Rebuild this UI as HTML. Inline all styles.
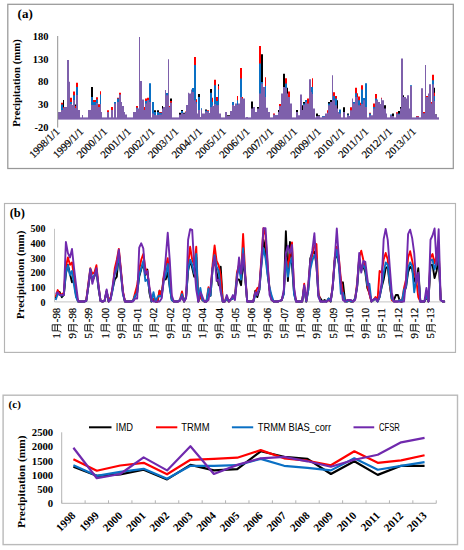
<!DOCTYPE html>
<html><head><meta charset="utf-8"><style>
html,body{margin:0;padding:0;background:#fff;width:464px;height:550px;overflow:hidden}
svg{display:block}
</style></head><body>
<svg width="464" height="550" viewBox="0 0 464 550">
<rect width="464" height="550" fill="#fff"/>
<rect x="7.8" y="4.3" width="445.5" height="164.2" fill="none" stroke="#989898" stroke-width="1.25"/>
<text x="17.6" y="17.8" font-family='"Liberation Serif", serif' font-size="13" font-weight="bold" text-anchor="start" fill="#000">(a)</text>
<text x="20.3" y="83" font-family='"Liberation Serif", serif' font-size="10.8" font-weight="bold" text-anchor="middle" fill="#000" transform="rotate(-90 20.3 83)">Precipitation (mm)</text>
<text x="48.6" y="39.8" font-family='"Liberation Serif", serif' font-size="10.5" font-weight="bold" text-anchor="end" fill="#000">180</text>
<text x="48.6" y="62.6" font-family='"Liberation Serif", serif' font-size="10.5" font-weight="bold" text-anchor="end" fill="#000">130</text>
<text x="48.6" y="85.4" font-family='"Liberation Serif", serif' font-size="10.5" font-weight="bold" text-anchor="end" fill="#000">80</text>
<text x="48.6" y="108.2" font-family='"Liberation Serif", serif' font-size="10.5" font-weight="bold" text-anchor="end" fill="#000">30</text>
<text x="48.6" y="131" font-family='"Liberation Serif", serif' font-size="10.5" font-weight="bold" text-anchor="end" fill="#000">-20</text>
<path d="M58 119V116H61V119ZM63 119V99.9H64V119ZM75 119V104.4H76V119ZM91 119V86.9H93V119ZM98 119V104.4H100V119ZM133 119V112H136V119ZM154 119V110.3H156V119ZM157 119V110.3H159V119ZM162 119V106H163V119ZM170 119V98.6H172V119ZM179 119V112.8H181V119ZM181 119V110H183V119ZM183 119V112.8H185V119ZM196 119V99.4H197V119ZM198 119V94H200V119ZM205 119V109.4H207V119ZM210 119V88.9H212V119ZM218 119V84.3H219V119ZM227 119V115.3H230V119ZM230 119V112H232V119ZM251 119V101.6H253V119ZM257 119V107H259V119ZM261 119V54.2H263V119ZM266 119V108.6H268V119ZM278 119V110H279V119ZM283 119V73.8H285V119ZM287 119V87.7H288V119ZM296 119V110H298V119ZM302 119V105.3H303V119ZM303 119V101.9H305V119ZM313 119V110.3H315V119ZM316 119V113.6H318V119ZM318 119V115.3H320V119ZM328 119V101.9H330V119ZM330 119V99.9H332V119ZM337 119V100.2H338V119ZM343 119V107.3H345V119ZM347 119V113.6H349V119ZM384 119V105.3H386V119ZM392 119V113.6H394V119ZM398 119V111.1H400V119ZM400 119V106.9H401V119ZM403 119V95.2H404V119ZM434 119V87.7H435V119ZM435 119V114.4H437V119Z" fill="#000000"/>
<path d="M58 119V116H61V119ZM61 119V102.7H63V119ZM63 119V107H64V119ZM70 119V97.7H72V119ZM73 119V91.5H75V119ZM75 119V106H76V119ZM76 119V82.8H78V119ZM93 119V99.9H96V119ZM96 119V97.2H98V119ZM98 119V104.4H100V119ZM100 119V91.2H101V119ZM107 119V110.3H109V119ZM111 119V107H113V119ZM117 119V97.7H119V119ZM119 119V92.7H121V119ZM122 119V106H124V119ZM136 119V106H138V119ZM144 119V107H145V119ZM145 119V98.6H147V119ZM147 119V97.7H149V119ZM159 119V112H162V119ZM169 119V106H170V119ZM170 119V101H172V119ZM185 119V111.6H186V119ZM194 119V57.1H196V119ZM196 119V99.4H197V119ZM207 119V110.3H209V119ZM212 119V97.7H213V119ZM214 119V79.8H216V119ZM216 119V96.9H218V119ZM218 119V86H219V119ZM237 119V96H238V119ZM240 119V68.1H242V119ZM242 119V97H243V119ZM255 119V112H257V119ZM259 119V45.9H261V119ZM265 119V77.2H266V119ZM273 119V113.6H275V119ZM279 119V103.9H281V119ZM285 119V78.2H287V119ZM288 119V91.5H290V119ZM307 119V98.6H309V119ZM312 119V78.2H313V119ZM327 119V110.3H328V119ZM333 119V92.2H335V119ZM335 119V96H337V119ZM350 119V107.3H352V119ZM355 119V87.7H357V119ZM357 119V93.2H358V119ZM358 119V96.6H360V119ZM360 119V102.7H361V119ZM361 119V85.2H363V119ZM369 119V112.8H371V119ZM373 119V103.6H375V119ZM375 119V94H377V119ZM381 119V97.7H382V119ZM396 119V112.3H398V119ZM416 119V116H419V119ZM423 119V111.9H425V119ZM426 119V96H428V119ZM431 119V101.9H432V119ZM432 119V74.8H434V119ZM434 119V92.7H435V119Z" fill="#ff0000"/>
<path d="M58 119V116H61V119ZM61 119V104.5H63V119ZM63 119V108H64V119ZM70 119V101.9H72V119ZM72 119V105H73V119ZM73 119V95.2H75V119ZM76 119V86.9H78V119ZM91 119V96.9H93V119ZM93 119V101.9H96V119ZM96 119V99.4H98V119ZM100 119V94.4H101V119ZM114 119V102H116V119ZM117 119V98.6H119V119ZM122 119V107.8H124V119ZM136 119V107.8H138V119ZM145 119V101H147V119ZM149 119V83.2H151V119ZM152 119V102H154V119ZM154 119V112H156V119ZM157 119V112H159V119ZM159 119V112.8H162V119ZM166 119V93H168V119ZM170 119V102.7H172V119ZM181 119V111.1H183V119ZM185 119V112.3H186V119ZM192 119V88H194V119ZM194 119V65.1H196V119ZM196 119V101.9H197V119ZM198 119V96.9H200V119ZM201 119V108.3H202V119ZM205 119V110.6H207V119ZM207 119V111.1H209V119ZM210 119V92.7H212V119ZM212 119V101.9H213V119ZM214 119V85.2H216V119ZM216 119V101H218V119ZM218 119V89.4H219V119ZM232 119V101.9H234V119ZM237 119V100.2H238V119ZM238 119V107H240V119ZM240 119V78.5H242V119ZM255 119V112H257V119ZM259 119V63.4H261V119ZM261 119V82H263V119ZM265 119V86H266V119ZM275 119V115.3H278V119ZM279 119V106H281V119ZM285 119V83.5H287V119ZM303 119V103.6H305V119ZM305 119V99.9H307V119ZM311 119V86.9H312V119ZM312 119V86.9H313V119ZM322 119V116H325V119ZM328 119V103.6H330V119ZM333 119V96H335V119ZM335 119V98.6H337V119ZM339 119V109.4H341V119ZM347 119V114.4H349V119ZM353 119V101.9H355V119ZM355 119V93.2H357V119ZM357 119V96.9H358V119ZM358 119V100.2H360V119ZM360 119V105.3H361V119ZM361 119V89.4H363V119ZM363 119V98H365V119ZM365 119V83.2H367V119ZM369 119V113.6H371V119ZM373 119V106.9H375V119ZM375 119V98.6H377V119ZM390 119V114.4H392V119ZM398 119V113.6H400V119ZM410 119V85.2H412V119ZM423 119V113.6H425V119ZM432 119V80.2H434V119ZM434 119V96H435V119Z" fill="#0a70c4"/>
<path d="M58 119V112H61V119ZM61 119V110H63V119ZM63 119V108H64V119ZM64 119V107H67V119ZM67 119V60.1H69V119ZM69 119V81.8H70V119ZM70 119V104H72V119ZM72 119V105H73V119ZM73 119V100H75V119ZM75 119V108H76V119ZM76 119V95H78V119ZM78 119V110H80V119ZM82 119V115H83V119ZM88 119V110H91V119ZM91 119V105H93V119ZM93 119V105H96V119ZM96 119V103H98V119ZM98 119V107H100V119ZM100 119V104H101V119ZM101 119V112H102V119ZM107 119V112H109V119ZM111 119V110H113V119ZM114 119V103.6H116V119ZM117 119V102H119V119ZM119 119V94.4H121V119ZM121 119V102H122V119ZM122 119V106H124V119ZM124 119V112H125V119ZM125 119V114.4H127V119ZM133 119V112H136V119ZM136 119V108.6H138V119ZM138 119V108.6H139V119ZM139 119V37H140V119ZM140 119V81H142V119ZM142 119V99.4H144V119ZM144 119V110H145V119ZM145 119V103.6H147V119ZM147 119V100H149V119ZM149 119V102H151V119ZM152 119V113.6H154V119ZM154 119V115H156V119ZM156 119V115.3H157V119ZM157 119V115H159V119ZM159 119V114.4H162V119ZM162 119V108.6H163V119ZM163 119V107H165V119ZM165 119V89.9H166V119ZM166 119V95.2H168V119ZM168 119V59.3H169V119ZM169 119V107H170V119ZM170 119V103H172V119ZM179 119V114.4H181V119ZM181 119V113H183V119ZM183 119V113.6H185V119ZM185 119V112.5H186V119ZM186 119V105H188V119ZM188 119V92.7H189V119ZM189 119V93.5H191V119ZM191 119V89.4H192V119ZM192 119V91.9H194V119ZM194 119V100.2H196V119ZM196 119V103.6H197V119ZM197 119V113.6H198V119ZM198 119V110H200V119ZM200 119V117H201V119ZM201 119V109.4H202V119ZM202 119V113.6H205V119ZM205 119V111.4H207V119ZM207 119V111.4H209V119ZM209 119V113H210V119ZM210 119V107H212V119ZM212 119V105.3H213V119ZM213 119V106H214V119ZM214 119V104H216V119ZM216 119V105.3H218V119ZM218 119V105H219V119ZM219 119V113.6H221V119ZM225 119V112H227V119ZM227 119V116H230V119ZM230 119V111H232V119ZM232 119V105H234V119ZM234 119V106H235V119ZM235 119V103.6H237V119ZM237 119V105H238V119ZM238 119V103.6H240V119ZM240 119V97H242V119ZM242 119V98.6H243V119ZM243 119V98.6H245V119ZM246 119V117H248V119ZM251 119V108.6H253V119ZM253 119V107H255V119ZM255 119V112H257V119ZM257 119V108.6H259V119ZM259 119V93.5H261V119ZM261 119V83.5H263V119ZM263 119V86.9H265V119ZM265 119V97H266V119ZM266 119V107.8H268V119ZM268 119V112H270V119ZM273 119V114.4H275V119ZM275 119V115.3H278V119ZM278 119V112H279V119ZM279 119V106H281V119ZM281 119V93.5H283V119ZM283 119V86.9H285V119ZM285 119V87.7H287V119ZM287 119V93.5H288V119ZM288 119V97H290V119ZM290 119V103.6H292V119ZM296 119V112H298V119ZM298 119V115.3H300V119ZM300 119V94.4H302V119ZM302 119V110H303V119ZM303 119V105H305V119ZM305 119V101.9H307V119ZM307 119V103.6H309V119ZM309 119V79.3H311V119ZM311 119V92H312V119ZM312 119V94H313V119ZM313 119V108.6H315V119ZM316 119V116H318V119ZM318 119V116H320V119ZM322 119V116.6H325V119ZM325 119V113.6H327V119ZM327 119V112.8H328V119ZM328 119V105.3H330V119ZM330 119V102H332V119ZM332 119V75.2H333V119ZM333 119V100.2H335V119ZM335 119V105.3H337V119ZM337 119V108.6H338V119ZM338 119V112H339V119ZM339 119V113.6H341V119ZM343 119V112H345V119ZM347 119V115.3H349V119ZM349 119V116H350V119ZM350 119V110.3H352V119ZM352 119V98.6H353V119ZM353 119V103.6H355V119ZM355 119V96.9H357V119ZM357 119V96.9H358V119ZM358 119V105.3H360V119ZM360 119V106H361V119ZM361 119V104H363V119ZM363 119V100.2H365V119ZM365 119V107H367V119ZM369 119V115.3H371V119ZM371 119V115.3H373V119ZM373 119V108.6H375V119ZM375 119V100.2H377V119ZM377 119V99.4H378V119ZM378 119V101.9H380V119ZM380 119V104H381V119ZM381 119V98.6H382V119ZM382 119V100.2H384V119ZM384 119V108.6H386V119ZM386 119V113.6H387V119ZM390 119V115.3H392V119ZM392 119V116H394V119ZM396 119V113.6H398V119ZM398 119V114.4H400V119ZM400 119V108.6H401V119ZM401 119V58.4H403V119ZM403 119V96.9H404V119ZM404 119V96.9H406V119ZM406 119V98.6H407V119ZM407 119V95.2H409V119ZM409 119V108.6H410V119ZM410 119V86H412V119ZM416 119V116.6H419V119ZM421 119V88.2H423V119ZM423 119V113.6H425V119ZM425 119V65.1H426V119ZM426 119V96.9H428V119ZM428 119V93.5H429V119ZM429 119V84.3H431V119ZM431 119V103.6H432V119ZM432 119V84.3H434V119ZM434 119V101H435V119ZM435 119V114.4H437V119ZM437 119V117.8H439V119Z" fill="#7e60ab"/>
<rect x="58" y="117.4" width="381" height="2.2" fill="#7e60ab"/>
<line x1="57.7" y1="36" x2="57.7" y2="127.6" stroke="#868686" stroke-width="0.9"/>
<text x="60.2" y="132.2" font-family='"Liberation Serif", serif' font-size="10.6" font-weight="normal" text-anchor="end" fill="#000" transform="rotate(-45 60.2 132.2)" stroke="#000" stroke-width="0.22">1998/1/1</text>
<text x="83.95" y="132.2" font-family='"Liberation Serif", serif' font-size="10.6" font-weight="normal" text-anchor="end" fill="#000" transform="rotate(-45 83.95 132.2)" stroke="#000" stroke-width="0.22">1999/1/1</text>
<text x="107.7" y="132.2" font-family='"Liberation Serif", serif' font-size="10.6" font-weight="normal" text-anchor="end" fill="#000" transform="rotate(-45 107.7 132.2)" stroke="#000" stroke-width="0.22">2000/1/1</text>
<text x="131.45" y="132.2" font-family='"Liberation Serif", serif' font-size="10.6" font-weight="normal" text-anchor="end" fill="#000" transform="rotate(-45 131.45 132.2)" stroke="#000" stroke-width="0.22">2001/1/1</text>
<text x="155.2" y="132.2" font-family='"Liberation Serif", serif' font-size="10.6" font-weight="normal" text-anchor="end" fill="#000" transform="rotate(-45 155.2 132.2)" stroke="#000" stroke-width="0.22">2002/1/1</text>
<text x="178.95" y="132.2" font-family='"Liberation Serif", serif' font-size="10.6" font-weight="normal" text-anchor="end" fill="#000" transform="rotate(-45 178.95 132.2)" stroke="#000" stroke-width="0.22">2003/1/1</text>
<text x="202.7" y="132.2" font-family='"Liberation Serif", serif' font-size="10.6" font-weight="normal" text-anchor="end" fill="#000" transform="rotate(-45 202.7 132.2)" stroke="#000" stroke-width="0.22">2004/1/1</text>
<text x="226.45" y="132.2" font-family='"Liberation Serif", serif' font-size="10.6" font-weight="normal" text-anchor="end" fill="#000" transform="rotate(-45 226.45 132.2)" stroke="#000" stroke-width="0.22">2005/1/1</text>
<text x="250.2" y="132.2" font-family='"Liberation Serif", serif' font-size="10.6" font-weight="normal" text-anchor="end" fill="#000" transform="rotate(-45 250.2 132.2)" stroke="#000" stroke-width="0.22">2006/1/1</text>
<text x="273.95" y="132.2" font-family='"Liberation Serif", serif' font-size="10.6" font-weight="normal" text-anchor="end" fill="#000" transform="rotate(-45 273.95 132.2)" stroke="#000" stroke-width="0.22">2007/1/1</text>
<text x="297.7" y="132.2" font-family='"Liberation Serif", serif' font-size="10.6" font-weight="normal" text-anchor="end" fill="#000" transform="rotate(-45 297.7 132.2)" stroke="#000" stroke-width="0.22">2008/1/1</text>
<text x="321.45" y="132.2" font-family='"Liberation Serif", serif' font-size="10.6" font-weight="normal" text-anchor="end" fill="#000" transform="rotate(-45 321.45 132.2)" stroke="#000" stroke-width="0.22">2009/1/1</text>
<text x="345.2" y="132.2" font-family='"Liberation Serif", serif' font-size="10.6" font-weight="normal" text-anchor="end" fill="#000" transform="rotate(-45 345.2 132.2)" stroke="#000" stroke-width="0.22">2010/1/1</text>
<text x="368.95" y="132.2" font-family='"Liberation Serif", serif' font-size="10.6" font-weight="normal" text-anchor="end" fill="#000" transform="rotate(-45 368.95 132.2)" stroke="#000" stroke-width="0.22">2011/1/1</text>
<text x="392.7" y="132.2" font-family='"Liberation Serif", serif' font-size="10.6" font-weight="normal" text-anchor="end" fill="#000" transform="rotate(-45 392.7 132.2)" stroke="#000" stroke-width="0.22">2012/1/1</text>
<text x="416.45" y="132.2" font-family='"Liberation Serif", serif' font-size="10.6" font-weight="normal" text-anchor="end" fill="#000" transform="rotate(-45 416.45 132.2)" stroke="#000" stroke-width="0.22">2013/1/1</text>
<rect x="4.5" y="203.5" width="451" height="148.9" fill="none" stroke="#b4b4b4" stroke-width="1.15"/>
<text x="9.7" y="217.1" font-family='"Liberation Serif", serif' font-size="12.5" font-weight="bold" text-anchor="start" fill="#000">(b)</text>
<text x="24.3" y="274.9" font-family='"Liberation Serif", serif' font-size="10.9" font-weight="bold" text-anchor="middle" fill="#000" transform="rotate(-90 24.3 274.9)">Precipitation (mm)</text>
<text x="45.4" y="305.7" font-family='"Liberation Serif", serif' font-size="10" font-weight="bold" text-anchor="end" fill="#000">0</text>
<text x="45.4" y="291.04" font-family='"Liberation Serif", serif' font-size="10" font-weight="bold" text-anchor="end" fill="#000">100</text>
<text x="45.4" y="276.37" font-family='"Liberation Serif", serif' font-size="10" font-weight="bold" text-anchor="end" fill="#000">200</text>
<text x="45.4" y="261.71" font-family='"Liberation Serif", serif' font-size="10" font-weight="bold" text-anchor="end" fill="#000">300</text>
<text x="45.4" y="247.04" font-family='"Liberation Serif", serif' font-size="10" font-weight="bold" text-anchor="end" fill="#000">400</text>
<text x="45.4" y="232.38" font-family='"Liberation Serif", serif' font-size="10" font-weight="bold" text-anchor="end" fill="#000">500</text>
<line x1="54.5" y1="228.8" x2="54.5" y2="302" stroke="#c4c4c4" stroke-width="1"/>
<line x1="54.5" y1="301.9" x2="446" y2="301.9" stroke="#c4c4c4" stroke-width="1"/>
<polyline points="55.7,298.57 57.74,291.53 59.77,292.26 61.81,297.25 63.85,294.9 65.89,273.64 67.92,264.84 69.96,273.79 72,282.29 74.03,279.5 76.07,295.63 78.11,301.5 80.14,301.5 82.18,301.5 84.22,301.5 86.25,300.77 88.29,286.84 90.33,272.17 92.37,280.97 94.4,276.57 96.44,269.97 98.48,288.3 100.51,300.77 102.55,301.5 104.59,300.77 106.62,291.24 108.66,301.5 110.7,297.83 112.74,288.3 114.77,279.5 116.81,276.72 118.85,253.11 120.88,272.17 122.92,292.7 124.96,301.5 127,301.5 129.03,301.5 131.07,301.5 133.11,300.77 135.14,295.63 137.18,292.7 139.22,276.57 141.25,269.24 143.29,263.37 145.33,275.1 147.37,269.53 149.4,292.7 151.44,301.5 153.48,300.03 155.51,301.5 157.55,301.5 159.59,290.8 161.62,295.63 163.66,278.04 165.7,279.5 167.74,272.47 169.77,286.84 171.81,300.03 173.85,301.5 175.88,301.5 177.92,301.5 179.96,300.03 181.99,295.63 184.03,301.5 186.07,297.1 188.11,270.71 190.14,260.44 192.18,267.77 194.22,276.72 196.25,257.51 198.29,301.5 200.33,294.17 202.36,300.03 204.4,301.5 206.44,301.5 208.48,292.7 210.51,295.63 212.55,269.24 214.59,258.97 216.62,272.17 218.66,285.22 220.7,266.75 222.73,301.5 224.77,301.5 226.81,298.57 228.84,301.5 230.88,299.3 232.92,298.57 234.96,297.1 236.99,279.5 239.03,279.5 241.07,285.22 243.1,260.44 245.14,276.57 247.18,301.5 249.21,301.5 251.25,301.5 253.29,301.5 255.33,290.8 257.36,297.1 259.4,289.77 261.44,263.37 263.47,239.91 265.51,250.18 267.55,272.17 269.58,289.77 271.62,300.03 273.66,301.5 275.7,301.5 277.73,301.5 279.77,300.77 281.81,300.03 283.84,292.7 285.88,231.26 287.92,280.97 289.95,241.96 291.99,264.84 294.03,292.7 296.07,301.5 298.1,301.5 300.14,301.5 302.18,301.5 304.21,286.84 306.25,301.5 308.29,289.77 310.32,258.24 312.36,253.11 314.4,251.64 316.44,264.84 318.47,295.63 320.51,298.57 322.55,301.5 324.58,300.03 326.62,301.5 328.66,298.57 330.69,301.5 332.73,286.84 334.77,260.44 336.81,253.11 338.84,263.37 340.88,283.76 342.92,282.29 344.95,300.03 346.99,301.5 349.03,300.03 351.06,301.5 353.1,301.5 355.14,298.57 357.18,286.84 359.21,260.44 361.25,269.24 363.29,266.31 365.32,272.17 367.36,288.01 369.4,292.7 371.44,301.5 373.47,300.03 375.51,298.57 377.55,301.5 379.58,297.1 381.62,287.13 383.66,279.5 385.69,268.21 387.73,266.75 389.77,285.37 391.8,298.57 393.84,300.03 395.88,295.05 397.92,295.05 399.95,301.5 401.99,301.5 404.03,292.7 406.06,286.84 408.1,272.17 410.14,266.75 412.17,269.24 414.21,279.5 416.25,283.9 418.29,268.21 420.32,301.5 422.36,301.5 424.4,301.5 426.43,297.1 428.47,301.5 430.51,264.84 432.54,264.84 434.58,278.04 436.62,271 438.66,257.51 440.69,300.03 442.73,301.5 444.77,301.5" fill="none" stroke="#000000" stroke-width="1.9" stroke-linejoin="round"/>
<polyline points="55.7,297.1 57.74,290.06 59.77,294.17 61.81,294.46 63.85,292.7 65.89,266.75 67.92,257.51 69.96,264.84 72,262.49 74.03,276.57 76.07,294.17 78.11,301.5 80.14,301.5 82.18,301.5 84.22,301.5 86.25,300.03 88.29,283.9 90.33,268.21 92.37,273.79 94.4,272.47 96.44,265.28 98.48,285.37 100.51,300.77 102.55,301.5 104.59,300.77 106.62,291.24 108.66,301.5 110.7,297.1 112.74,286.84 114.77,268.21 116.81,259.71 118.85,249 120.88,269.24 122.92,291.24 124.96,301.5 127,301.5 129.03,301.5 131.07,301.5 133.11,300.77 135.14,292.7 137.18,285.37 139.22,269.53 141.25,259.71 143.29,253.99 145.33,268.21 147.37,272.17 149.4,288.3 151.44,301.5 153.48,298.57 155.51,301.5 157.55,301.5 159.59,290.8 161.62,295.63 163.66,276.57 165.7,266.31 167.74,258.24 169.77,282.44 171.81,298.57 173.85,301.5 175.88,301.5 177.92,301.5 179.96,300.03 181.99,291.53 184.03,301.5 186.07,297.1 188.11,264.84 190.14,246.8 192.18,259.71 194.22,265.28 196.25,246.8 198.29,301.5 200.33,297.1 202.36,300.03 204.4,301.5 206.44,301.5 208.48,287.28 210.51,292.7 212.55,264.84 214.59,245.48 216.62,261.03 218.66,265.28 220.7,275.25 222.73,301.5 224.77,301.5 226.81,297.1 228.84,301.5 230.88,299.3 232.92,297.1 234.96,295.63 236.99,272.17 239.03,264.84 241.07,276.57 243.1,234.05 245.14,272.17 247.18,301.5 249.21,301.5 251.25,301.5 253.29,301.5 255.33,292.7 257.36,288.01 259.4,286.84 261.44,257.51 263.47,228.18 265.51,235.51 267.55,264.84 269.58,289.77 271.62,298.57 273.66,301.5 275.7,301.5 277.73,301.5 279.77,300.77 281.81,300.03 283.84,292.7 285.88,257.51 287.92,267.77 289.95,253.11 291.99,242.55 294.03,289.77 296.07,301.5 298.1,301.5 300.14,301.5 302.18,301.5 304.21,283.76 306.25,301.5 308.29,286.84 310.32,264.84 312.36,254.58 314.4,245.78 316.44,244.02 318.47,292.7 320.51,301.5 322.55,301.5 324.58,301.5 326.62,301.5 328.66,300.03 330.69,301.5 332.73,285.37 334.77,257.51 336.81,246.8 338.84,257.51 340.88,279.5 342.92,292.7 344.95,301.5 346.99,301.5 349.03,300.03 351.06,301.5 353.1,301.5 355.14,298.57 357.18,282.44 359.21,257.51 361.25,250.76 363.29,259.71 365.32,267.77 367.36,285.37 369.4,294.17 371.44,301.5 373.47,300.03 375.51,297.1 377.55,300.03 379.58,271 381.62,272.61 383.66,259.56 385.69,252.96 387.73,259.56 389.77,282.73 391.8,300.03 393.84,301.5 395.88,301.5 397.92,301.5 399.95,300.03 401.99,301.5 404.03,287.86 406.06,279.5 408.1,257.51 410.14,251.2 412.17,260.44 414.21,272.17 416.25,279.5 418.29,297.1 420.32,301.5 422.36,301.5 424.4,301.5 426.43,295.63 428.47,301.5 430.51,257.51 432.54,253.99 434.58,263.23 436.62,255.46 438.66,250.18 440.69,300.03 442.73,301.5 444.77,301.5" fill="none" stroke="#ff0000" stroke-width="1.9" stroke-linejoin="round"/>
<polyline points="55.7,300.03 57.74,293.73 59.77,294.9 61.81,295.63 63.85,294.17 65.89,272.47 67.92,265.28 69.96,275.1 72,271 74.03,285.22 76.07,297.1 78.11,301.5 80.14,301.5 82.18,301.5 84.22,301.5 86.25,300.77 88.29,286.84 90.33,268.95 92.37,279.5 94.4,275.1 96.44,271 98.48,286.84 100.51,300.77 102.55,301.5 104.59,300.77 106.62,291.24 108.66,301.5 110.7,298.57 112.74,289.77 114.77,273.64 116.81,269.53 118.85,253.99 120.88,273.64 122.92,294.17 124.96,301.5 127,301.5 129.03,301.5 131.07,301.5 133.11,300.77 135.14,295.63 137.18,292.7 139.22,275.25 141.25,268.21 143.29,261.03 145.33,280.97 147.37,279.5 149.4,289.48 151.44,301.5 153.48,292.26 155.51,301.5 157.55,297.1 159.59,295.63 161.62,297.1 163.66,280.97 165.7,275.1 167.74,263.96 169.77,288.01 171.81,300.03 173.85,301.5 175.88,301.5 177.92,301.5 179.96,300.03 181.99,294.17 184.03,301.5 186.07,297.1 188.11,269.24 190.14,259.71 192.18,264.84 194.22,273.79 196.25,253.99 198.29,301.5 200.33,288.01 202.36,300.03 204.4,301.5 206.44,301.5 208.48,288.74 210.51,295.63 212.55,269.24 214.59,255.31 216.62,266.75 218.66,271 220.7,289.77 222.73,301.5 224.77,301.5 226.81,298.57 228.84,301.5 230.88,299.3 232.92,298.57 234.96,297.1 236.99,275.1 239.03,267.77 241.07,279.5 243.1,248.27 245.14,275.1 247.18,301.5 249.21,301.5 251.25,301.5 253.29,301.5 255.33,295.63 257.36,292.7 259.4,289.77 261.44,264.84 263.47,248.27 265.51,258.24 267.55,275.1 269.58,287.57 271.62,295.63 273.66,301.5 275.7,301.5 277.73,301.5 279.77,300.77 281.81,300.03 283.84,294.17 285.88,258.97 287.92,276.57 289.95,263.37 291.99,257.51 294.03,294.17 296.07,301.5 298.1,301.5 300.14,301.5 302.18,301.5 304.21,286.84 306.25,301.5 308.29,289.77 310.32,269.24 312.36,260.44 314.4,254.87 316.44,258.97 318.47,295.63 320.51,301.5 322.55,301.5 324.58,301.5 326.62,301.5 328.66,298.57 330.69,301.5 332.73,286.84 334.77,260.44 336.81,249.74 338.84,264.84 340.88,293.73 342.92,292.7 344.95,301.5 346.99,301.5 349.03,300.03 351.06,301.5 353.1,301.5 355.14,298.57 357.18,285.37 359.21,257.51 361.25,270.85 363.29,264.84 365.32,269.24 367.36,285.22 369.4,283.76 371.44,301.5 373.47,300.03 375.51,298.57 377.55,301.5 379.58,297.1 381.62,286.84 383.66,272.61 385.69,262.35 387.73,264.84 389.77,282.73 391.8,298.57 393.84,301.5 395.88,301.5 397.92,301.5 399.95,300.03 401.99,301.5 404.03,289.48 406.06,286.84 408.1,267.77 410.14,262.49 412.17,266.31 414.21,292.26 416.25,279.5 418.29,275.1 420.32,301.5 422.36,301.5 424.4,301.5 426.43,295.63 428.47,301.5 430.51,260.44 432.54,259.71 434.58,269.53 436.62,261.91 438.66,253.11 440.69,300.03 442.73,301.5 444.77,301.5" fill="none" stroke="#0a70c4" stroke-width="1.9" stroke-linejoin="round"/>
<polyline points="55.7,293.73 57.74,292.26 59.77,295.05 61.81,295.05 63.85,295.05 65.89,241.96 67.92,253.11 69.96,257.51 72,249 74.03,268.21 76.07,285.22 78.11,300.77 80.14,301.5 82.18,301.5 84.22,301.5 86.25,300.77 88.29,285.96 90.33,269.53 92.37,283.76 94.4,275.98 96.44,268.21 98.48,285.22 100.51,300.77 102.55,301.5 104.59,300.77 106.62,289.48 108.66,301.5 110.7,300.03 112.74,285.22 114.77,272.47 116.81,263.96 118.85,249.74 120.88,271 122.92,292.26 124.96,301.5 127,301.5 129.03,301.5 131.07,301.5 133.11,301.5 135.14,298.57 137.18,298.57 139.22,247.54 141.25,243.28 143.29,248.27 145.33,273.79 147.37,271 149.4,286.69 151.44,300.03 153.48,301.5 155.51,301.5 157.55,301.5 159.59,301.5 161.62,298.57 163.66,280.97 165.7,258.24 167.74,232.73 169.77,260.44 171.81,295.63 173.85,301.5 175.88,301.5 177.92,301.5 179.96,300.77 181.99,296.51 184.03,301.5 186.07,298.57 188.11,239.76 190.14,229.21 192.18,229.79 194.22,265.28 196.25,289.48 198.29,301.5 200.33,292.26 202.36,296.51 204.4,301.5 206.44,301.5 208.48,300.03 210.51,288.01 212.55,268.21 214.59,256.77 216.62,280.97 218.66,279.5 220.7,292.26 222.73,301.5 224.77,301.5 226.81,295.05 228.84,301.5 230.88,299.3 232.92,295.05 234.96,300.03 236.99,279.5 239.03,257.51 241.07,273.64 243.1,253.99 245.14,276.57 247.18,301.5 249.21,301.5 251.25,301.5 253.29,301.5 255.33,292.26 257.36,295.05 259.4,286.84 261.44,261.03 263.47,228.18 265.51,228.18 267.55,261.03 269.58,294.9 271.62,300.03 273.66,301.5 275.7,301.5 277.73,301.5 279.77,300.77 281.81,300.03 283.84,289.77 285.88,253.11 287.92,245.78 289.95,253.11 291.99,245.04 294.03,286.84 296.07,301.5 298.1,301.5 300.14,301.5 302.18,301.5 304.21,285.22 306.25,300.77 308.29,283.9 310.32,260.44 312.36,250.18 314.4,233.31 316.44,264.84 318.47,297.1 320.51,301.5 322.55,301.5 324.58,301.5 326.62,301.5 328.66,300.03 330.69,300.77 332.73,286.54 334.77,258.24 336.81,228.47 338.84,258.24 340.88,283.76 342.92,300.03 344.95,301.5 346.99,300.03 349.03,300.03 351.06,300.03 353.1,301.5 355.14,300.03 357.18,285.22 359.21,252.96 361.25,272.61 363.29,261.03 365.32,261.91 367.36,278.33 369.4,292.7 371.44,301.5 373.47,299.45 375.51,298.57 377.55,301.5 379.58,295.93 381.62,282.73 383.66,239.18 385.69,228.91 387.73,239.91 389.77,266.75 391.8,292.99 393.84,301.5 395.88,301.5 397.92,301.5 399.95,301.5 401.99,301.5 404.03,301.5 406.06,279.5 408.1,234.05 410.14,229.65 412.17,238.15 414.21,253.11 416.25,282.73 418.29,272.61 420.32,301.5 422.36,301.5 424.4,301.5 426.43,288.01 428.47,301.5 430.51,239.76 432.54,235.51 434.58,228.47 436.62,264.84 438.66,229.21 440.69,300.03 442.73,301.5 444.77,301.5" fill="none" stroke="#7029ad" stroke-width="1.9" stroke-linejoin="round"/>
<g transform="translate(59.8 338.4) rotate(-90)">
<text x="0" y="0" font-family='"Liberation Serif", serif' font-size="10.8" stroke="#000" stroke-width="0.2">1</text>
<path d="M2.2 -7.6 V-2.2 Q2.1 0.2 0.8 1.7 M2.2 -7.6 H8.2 V0.8 Q8.2 1.5 6.9 1.1 M2.2 -4.85 H8.2 M2.2 -2.3 H8.2" transform="translate(5.4 0)" fill="none" stroke="#000" stroke-width="0.85"/>
<text x="16.2" y="0" font-family='"Liberation Serif", serif' font-size="10.8" stroke="#000" stroke-width="0.2">-98</text>
</g>
<g transform="translate(76.08 338.4) rotate(-90)">
<text x="0" y="0" font-family='"Liberation Serif", serif' font-size="10.8" stroke="#000" stroke-width="0.2">9</text>
<path d="M2.2 -7.6 V-2.2 Q2.1 0.2 0.8 1.7 M2.2 -7.6 H8.2 V0.8 Q8.2 1.5 6.9 1.1 M2.2 -4.85 H8.2 M2.2 -2.3 H8.2" transform="translate(5.4 0)" fill="none" stroke="#000" stroke-width="0.85"/>
<text x="16.2" y="0" font-family='"Liberation Serif", serif' font-size="10.8" stroke="#000" stroke-width="0.2">-98</text>
</g>
<g transform="translate(92.36 338.4) rotate(-90)">
<text x="0" y="0" font-family='"Liberation Serif", serif' font-size="10.8" stroke="#000" stroke-width="0.2">5</text>
<path d="M2.2 -7.6 V-2.2 Q2.1 0.2 0.8 1.7 M2.2 -7.6 H8.2 V0.8 Q8.2 1.5 6.9 1.1 M2.2 -4.85 H8.2 M2.2 -2.3 H8.2" transform="translate(5.4 0)" fill="none" stroke="#000" stroke-width="0.85"/>
<text x="16.2" y="0" font-family='"Liberation Serif", serif' font-size="10.8" stroke="#000" stroke-width="0.2">-99</text>
</g>
<g transform="translate(108.64 338.4) rotate(-90)">
<text x="0" y="0" font-family='"Liberation Serif", serif' font-size="10.8" stroke="#000" stroke-width="0.2">1</text>
<path d="M2.2 -7.6 V-2.2 Q2.1 0.2 0.8 1.7 M2.2 -7.6 H8.2 V0.8 Q8.2 1.5 6.9 1.1 M2.2 -4.85 H8.2 M2.2 -2.3 H8.2" transform="translate(5.4 0)" fill="none" stroke="#000" stroke-width="0.85"/>
<text x="16.2" y="0" font-family='"Liberation Serif", serif' font-size="10.8" stroke="#000" stroke-width="0.2">-00</text>
</g>
<g transform="translate(124.92 338.4) rotate(-90)">
<text x="0" y="0" font-family='"Liberation Serif", serif' font-size="10.8" stroke="#000" stroke-width="0.2">9</text>
<path d="M2.2 -7.6 V-2.2 Q2.1 0.2 0.8 1.7 M2.2 -7.6 H8.2 V0.8 Q8.2 1.5 6.9 1.1 M2.2 -4.85 H8.2 M2.2 -2.3 H8.2" transform="translate(5.4 0)" fill="none" stroke="#000" stroke-width="0.85"/>
<text x="16.2" y="0" font-family='"Liberation Serif", serif' font-size="10.8" stroke="#000" stroke-width="0.2">-00</text>
</g>
<g transform="translate(141.2 338.4) rotate(-90)">
<text x="0" y="0" font-family='"Liberation Serif", serif' font-size="10.8" stroke="#000" stroke-width="0.2">5</text>
<path d="M2.2 -7.6 V-2.2 Q2.1 0.2 0.8 1.7 M2.2 -7.6 H8.2 V0.8 Q8.2 1.5 6.9 1.1 M2.2 -4.85 H8.2 M2.2 -2.3 H8.2" transform="translate(5.4 0)" fill="none" stroke="#000" stroke-width="0.85"/>
<text x="16.2" y="0" font-family='"Liberation Serif", serif' font-size="10.8" stroke="#000" stroke-width="0.2">-01</text>
</g>
<g transform="translate(157.48 338.4) rotate(-90)">
<text x="0" y="0" font-family='"Liberation Serif", serif' font-size="10.8" stroke="#000" stroke-width="0.2">1</text>
<path d="M2.2 -7.6 V-2.2 Q2.1 0.2 0.8 1.7 M2.2 -7.6 H8.2 V0.8 Q8.2 1.5 6.9 1.1 M2.2 -4.85 H8.2 M2.2 -2.3 H8.2" transform="translate(5.4 0)" fill="none" stroke="#000" stroke-width="0.85"/>
<text x="16.2" y="0" font-family='"Liberation Serif", serif' font-size="10.8" stroke="#000" stroke-width="0.2">-02</text>
</g>
<g transform="translate(173.76 338.4) rotate(-90)">
<text x="0" y="0" font-family='"Liberation Serif", serif' font-size="10.8" stroke="#000" stroke-width="0.2">9</text>
<path d="M2.2 -7.6 V-2.2 Q2.1 0.2 0.8 1.7 M2.2 -7.6 H8.2 V0.8 Q8.2 1.5 6.9 1.1 M2.2 -4.85 H8.2 M2.2 -2.3 H8.2" transform="translate(5.4 0)" fill="none" stroke="#000" stroke-width="0.85"/>
<text x="16.2" y="0" font-family='"Liberation Serif", serif' font-size="10.8" stroke="#000" stroke-width="0.2">-02</text>
</g>
<g transform="translate(190.04 338.4) rotate(-90)">
<text x="0" y="0" font-family='"Liberation Serif", serif' font-size="10.8" stroke="#000" stroke-width="0.2">5</text>
<path d="M2.2 -7.6 V-2.2 Q2.1 0.2 0.8 1.7 M2.2 -7.6 H8.2 V0.8 Q8.2 1.5 6.9 1.1 M2.2 -4.85 H8.2 M2.2 -2.3 H8.2" transform="translate(5.4 0)" fill="none" stroke="#000" stroke-width="0.85"/>
<text x="16.2" y="0" font-family='"Liberation Serif", serif' font-size="10.8" stroke="#000" stroke-width="0.2">-03</text>
</g>
<g transform="translate(206.32 338.4) rotate(-90)">
<text x="0" y="0" font-family='"Liberation Serif", serif' font-size="10.8" stroke="#000" stroke-width="0.2">1</text>
<path d="M2.2 -7.6 V-2.2 Q2.1 0.2 0.8 1.7 M2.2 -7.6 H8.2 V0.8 Q8.2 1.5 6.9 1.1 M2.2 -4.85 H8.2 M2.2 -2.3 H8.2" transform="translate(5.4 0)" fill="none" stroke="#000" stroke-width="0.85"/>
<text x="16.2" y="0" font-family='"Liberation Serif", serif' font-size="10.8" stroke="#000" stroke-width="0.2">-04</text>
</g>
<g transform="translate(222.6 338.4) rotate(-90)">
<text x="0" y="0" font-family='"Liberation Serif", serif' font-size="10.8" stroke="#000" stroke-width="0.2">9</text>
<path d="M2.2 -7.6 V-2.2 Q2.1 0.2 0.8 1.7 M2.2 -7.6 H8.2 V0.8 Q8.2 1.5 6.9 1.1 M2.2 -4.85 H8.2 M2.2 -2.3 H8.2" transform="translate(5.4 0)" fill="none" stroke="#000" stroke-width="0.85"/>
<text x="16.2" y="0" font-family='"Liberation Serif", serif' font-size="10.8" stroke="#000" stroke-width="0.2">-04</text>
</g>
<g transform="translate(238.88 338.4) rotate(-90)">
<text x="0" y="0" font-family='"Liberation Serif", serif' font-size="10.8" stroke="#000" stroke-width="0.2">5</text>
<path d="M2.2 -7.6 V-2.2 Q2.1 0.2 0.8 1.7 M2.2 -7.6 H8.2 V0.8 Q8.2 1.5 6.9 1.1 M2.2 -4.85 H8.2 M2.2 -2.3 H8.2" transform="translate(5.4 0)" fill="none" stroke="#000" stroke-width="0.85"/>
<text x="16.2" y="0" font-family='"Liberation Serif", serif' font-size="10.8" stroke="#000" stroke-width="0.2">-05</text>
</g>
<g transform="translate(255.16 338.4) rotate(-90)">
<text x="0" y="0" font-family='"Liberation Serif", serif' font-size="10.8" stroke="#000" stroke-width="0.2">1</text>
<path d="M2.2 -7.6 V-2.2 Q2.1 0.2 0.8 1.7 M2.2 -7.6 H8.2 V0.8 Q8.2 1.5 6.9 1.1 M2.2 -4.85 H8.2 M2.2 -2.3 H8.2" transform="translate(5.4 0)" fill="none" stroke="#000" stroke-width="0.85"/>
<text x="16.2" y="0" font-family='"Liberation Serif", serif' font-size="10.8" stroke="#000" stroke-width="0.2">-06</text>
</g>
<g transform="translate(271.44 338.4) rotate(-90)">
<text x="0" y="0" font-family='"Liberation Serif", serif' font-size="10.8" stroke="#000" stroke-width="0.2">9</text>
<path d="M2.2 -7.6 V-2.2 Q2.1 0.2 0.8 1.7 M2.2 -7.6 H8.2 V0.8 Q8.2 1.5 6.9 1.1 M2.2 -4.85 H8.2 M2.2 -2.3 H8.2" transform="translate(5.4 0)" fill="none" stroke="#000" stroke-width="0.85"/>
<text x="16.2" y="0" font-family='"Liberation Serif", serif' font-size="10.8" stroke="#000" stroke-width="0.2">-06</text>
</g>
<g transform="translate(287.72 338.4) rotate(-90)">
<text x="0" y="0" font-family='"Liberation Serif", serif' font-size="10.8" stroke="#000" stroke-width="0.2">5</text>
<path d="M2.2 -7.6 V-2.2 Q2.1 0.2 0.8 1.7 M2.2 -7.6 H8.2 V0.8 Q8.2 1.5 6.9 1.1 M2.2 -4.85 H8.2 M2.2 -2.3 H8.2" transform="translate(5.4 0)" fill="none" stroke="#000" stroke-width="0.85"/>
<text x="16.2" y="0" font-family='"Liberation Serif", serif' font-size="10.8" stroke="#000" stroke-width="0.2">-07</text>
</g>
<g transform="translate(304 338.4) rotate(-90)">
<text x="0" y="0" font-family='"Liberation Serif", serif' font-size="10.8" stroke="#000" stroke-width="0.2">1</text>
<path d="M2.2 -7.6 V-2.2 Q2.1 0.2 0.8 1.7 M2.2 -7.6 H8.2 V0.8 Q8.2 1.5 6.9 1.1 M2.2 -4.85 H8.2 M2.2 -2.3 H8.2" transform="translate(5.4 0)" fill="none" stroke="#000" stroke-width="0.85"/>
<text x="16.2" y="0" font-family='"Liberation Serif", serif' font-size="10.8" stroke="#000" stroke-width="0.2">-08</text>
</g>
<g transform="translate(320.28 338.4) rotate(-90)">
<text x="0" y="0" font-family='"Liberation Serif", serif' font-size="10.8" stroke="#000" stroke-width="0.2">9</text>
<path d="M2.2 -7.6 V-2.2 Q2.1 0.2 0.8 1.7 M2.2 -7.6 H8.2 V0.8 Q8.2 1.5 6.9 1.1 M2.2 -4.85 H8.2 M2.2 -2.3 H8.2" transform="translate(5.4 0)" fill="none" stroke="#000" stroke-width="0.85"/>
<text x="16.2" y="0" font-family='"Liberation Serif", serif' font-size="10.8" stroke="#000" stroke-width="0.2">-08</text>
</g>
<g transform="translate(336.56 338.4) rotate(-90)">
<text x="0" y="0" font-family='"Liberation Serif", serif' font-size="10.8" stroke="#000" stroke-width="0.2">5</text>
<path d="M2.2 -7.6 V-2.2 Q2.1 0.2 0.8 1.7 M2.2 -7.6 H8.2 V0.8 Q8.2 1.5 6.9 1.1 M2.2 -4.85 H8.2 M2.2 -2.3 H8.2" transform="translate(5.4 0)" fill="none" stroke="#000" stroke-width="0.85"/>
<text x="16.2" y="0" font-family='"Liberation Serif", serif' font-size="10.8" stroke="#000" stroke-width="0.2">-09</text>
</g>
<g transform="translate(352.84 338.4) rotate(-90)">
<text x="0" y="0" font-family='"Liberation Serif", serif' font-size="10.8" stroke="#000" stroke-width="0.2">1</text>
<path d="M2.2 -7.6 V-2.2 Q2.1 0.2 0.8 1.7 M2.2 -7.6 H8.2 V0.8 Q8.2 1.5 6.9 1.1 M2.2 -4.85 H8.2 M2.2 -2.3 H8.2" transform="translate(5.4 0)" fill="none" stroke="#000" stroke-width="0.85"/>
<text x="16.2" y="0" font-family='"Liberation Serif", serif' font-size="10.8" stroke="#000" stroke-width="0.2">-10</text>
</g>
<g transform="translate(369.12 338.4) rotate(-90)">
<text x="0" y="0" font-family='"Liberation Serif", serif' font-size="10.8" stroke="#000" stroke-width="0.2">9</text>
<path d="M2.2 -7.6 V-2.2 Q2.1 0.2 0.8 1.7 M2.2 -7.6 H8.2 V0.8 Q8.2 1.5 6.9 1.1 M2.2 -4.85 H8.2 M2.2 -2.3 H8.2" transform="translate(5.4 0)" fill="none" stroke="#000" stroke-width="0.85"/>
<text x="16.2" y="0" font-family='"Liberation Serif", serif' font-size="10.8" stroke="#000" stroke-width="0.2">-10</text>
</g>
<g transform="translate(385.4 338.4) rotate(-90)">
<text x="0" y="0" font-family='"Liberation Serif", serif' font-size="10.8" stroke="#000" stroke-width="0.2">5</text>
<path d="M2.2 -7.6 V-2.2 Q2.1 0.2 0.8 1.7 M2.2 -7.6 H8.2 V0.8 Q8.2 1.5 6.9 1.1 M2.2 -4.85 H8.2 M2.2 -2.3 H8.2" transform="translate(5.4 0)" fill="none" stroke="#000" stroke-width="0.85"/>
<text x="16.2" y="0" font-family='"Liberation Serif", serif' font-size="10.8" stroke="#000" stroke-width="0.2">-11</text>
</g>
<g transform="translate(401.68 338.4) rotate(-90)">
<text x="0" y="0" font-family='"Liberation Serif", serif' font-size="10.8" stroke="#000" stroke-width="0.2">1</text>
<path d="M2.2 -7.6 V-2.2 Q2.1 0.2 0.8 1.7 M2.2 -7.6 H8.2 V0.8 Q8.2 1.5 6.9 1.1 M2.2 -4.85 H8.2 M2.2 -2.3 H8.2" transform="translate(5.4 0)" fill="none" stroke="#000" stroke-width="0.85"/>
<text x="16.2" y="0" font-family='"Liberation Serif", serif' font-size="10.8" stroke="#000" stroke-width="0.2">-12</text>
</g>
<g transform="translate(417.96 338.4) rotate(-90)">
<text x="0" y="0" font-family='"Liberation Serif", serif' font-size="10.8" stroke="#000" stroke-width="0.2">9</text>
<path d="M2.2 -7.6 V-2.2 Q2.1 0.2 0.8 1.7 M2.2 -7.6 H8.2 V0.8 Q8.2 1.5 6.9 1.1 M2.2 -4.85 H8.2 M2.2 -2.3 H8.2" transform="translate(5.4 0)" fill="none" stroke="#000" stroke-width="0.85"/>
<text x="16.2" y="0" font-family='"Liberation Serif", serif' font-size="10.8" stroke="#000" stroke-width="0.2">-12</text>
</g>
<g transform="translate(434.24 338.4) rotate(-90)">
<text x="0" y="0" font-family='"Liberation Serif", serif' font-size="10.8" stroke="#000" stroke-width="0.2">5</text>
<path d="M2.2 -7.6 V-2.2 Q2.1 0.2 0.8 1.7 M2.2 -7.6 H8.2 V0.8 Q8.2 1.5 6.9 1.1 M2.2 -4.85 H8.2 M2.2 -2.3 H8.2" transform="translate(5.4 0)" fill="none" stroke="#000" stroke-width="0.85"/>
<text x="16.2" y="0" font-family='"Liberation Serif", serif' font-size="10.8" stroke="#000" stroke-width="0.2">-13</text>
</g>
<rect x="3.1" y="395.2" width="454.4" height="149.4" fill="none" stroke="#bababa" stroke-width="1.4"/>
<text x="8.6" y="408.4" font-family='"Liberation Serif", serif' font-size="11" font-weight="bold" text-anchor="start" fill="#000">(c)</text>
<text x="25.3" y="481.7" font-family='"Liberation Serif", serif' font-size="11.4" font-weight="bold" text-anchor="middle" fill="#000" transform="rotate(-90 25.3 481.7)">Precipitation (mm)</text>
<text x="53.2" y="507" font-family='"Liberation Serif", serif' font-size="10.7" font-weight="bold" text-anchor="end" fill="#000">0</text>
<text x="53.2" y="492.84" font-family='"Liberation Serif", serif' font-size="10.7" font-weight="bold" text-anchor="end" fill="#000">500</text>
<text x="53.2" y="478.68" font-family='"Liberation Serif", serif' font-size="10.7" font-weight="bold" text-anchor="end" fill="#000">1000</text>
<text x="53.2" y="464.52" font-family='"Liberation Serif", serif' font-size="10.7" font-weight="bold" text-anchor="end" fill="#000">1500</text>
<text x="53.2" y="450.36" font-family='"Liberation Serif", serif' font-size="10.7" font-weight="bold" text-anchor="end" fill="#000">2000</text>
<text x="53.2" y="436.2" font-family='"Liberation Serif", serif' font-size="10.7" font-weight="bold" text-anchor="end" fill="#000">2500</text>
<line x1="61.7" y1="432.3" x2="61.7" y2="503.3" stroke="#b4b4b4" stroke-width="1"/>
<line x1="61.7" y1="503.3" x2="436.3" y2="503.3" stroke="#b4b4b4" stroke-width="1"/>
<path d="M61.7 503.3V500.3M85.11 503.3V500.3M108.52 503.3V500.3M131.93 503.3V500.3M155.34 503.3V500.3M178.75 503.3V500.3M202.16 503.3V500.3M225.57 503.3V500.3M248.98 503.3V500.3M272.39 503.3V500.3M295.8 503.3V500.3M319.21 503.3V500.3M342.62 503.3V500.3M366.03 503.3V500.3M389.44 503.3V500.3M412.85 503.3V500.3M436.26 503.3V500.3" stroke="#b4b4b4" stroke-width="1"/>
<polyline points="73.41,466.71 96.81,475.8 120.22,474.3 143.63,469.71 167.05,479.4 190.45,464.9 213.87,470.39 237.27,469.09 260.69,451.3 284.1,456.8 307.5,458.89 330.91,473.99 354.32,461.3 377.74,474.9 401.14,465.8 424.56,465.8" fill="none" stroke="#000000" stroke-width="2.2" stroke-linejoin="round"/>
<polyline points="73.41,459.21 96.81,470.7 120.22,465.49 143.63,462.8 167.05,474.3 190.45,459.8 213.87,458.89 237.27,457.7 260.69,450.12 284.1,458.3 307.5,460.71 330.91,465.21 354.32,451.3 377.74,462.8 401.14,460.4 424.56,455.3" fill="none" stroke="#ff0000" stroke-width="2.2" stroke-linejoin="round"/>
<polyline points="73.41,465.21 96.81,475.8 120.22,471.89 143.63,468.81 167.05,478.8 190.45,465.8 213.87,465.8 237.27,465.21 260.69,458.89 284.1,465.8 307.5,467.9 330.91,470.39 354.32,458.3 377.74,469.71 401.14,465.8 424.56,462.21" fill="none" stroke="#0a70c4" stroke-width="2.2" stroke-linejoin="round"/>
<polyline points="73.41,447.71 96.81,478.21 120.22,473.99 143.63,457.39 167.05,470.39 190.45,446.21 213.87,473.99 237.27,464.9 260.69,458.3 284.1,456.8 307.5,461.3 330.91,466.71 354.32,459.8 377.74,454.7 401.14,442.3 424.56,437.8" fill="none" stroke="#7029ad" stroke-width="2.2" stroke-linejoin="round"/>
<line x1="89" y1="427.3" x2="111.5" y2="427.3" stroke="#000000" stroke-width="2"/>
<text x="115.8" y="430.7" font-family='"Liberation Sans", sans-serif' font-size="10.3" textLength="17.1" lengthAdjust="spacingAndGlyphs">IMD</text>
<line x1="156" y1="427.3" x2="177.3" y2="427.3" stroke="#ff0000" stroke-width="2"/>
<text x="181.3" y="430.7" font-family='"Liberation Sans", sans-serif' font-size="10.3" textLength="28.3" lengthAdjust="spacingAndGlyphs">TRMM</text>
<line x1="231.9" y1="427.3" x2="253.2" y2="427.3" stroke="#0a70c4" stroke-width="2"/>
<text x="257.8" y="430.7" font-family='"Liberation Sans", sans-serif' font-size="10.3" textLength="73.3" lengthAdjust="spacingAndGlyphs">TRMM BIAS_corr</text>
<line x1="353.5" y1="427.3" x2="374.2" y2="427.3" stroke="#7029ad" stroke-width="2"/>
<text x="379" y="430.7" font-family='"Liberation Sans", sans-serif' font-size="10.3" textLength="20.8" lengthAdjust="spacingAndGlyphs">CFSR</text>
<text x="76.31" y="516.3" font-family='"Liberation Serif", serif' font-size="11.2" font-weight="bold" text-anchor="end" fill="#000" transform="rotate(-45 76.31 516.3)">1998</text>
<text x="99.72" y="516.3" font-family='"Liberation Serif", serif' font-size="11.2" font-weight="bold" text-anchor="end" fill="#000" transform="rotate(-45 99.72 516.3)">1999</text>
<text x="123.12" y="516.3" font-family='"Liberation Serif", serif' font-size="11.2" font-weight="bold" text-anchor="end" fill="#000" transform="rotate(-45 123.12 516.3)">2000</text>
<text x="146.53" y="516.3" font-family='"Liberation Serif", serif' font-size="11.2" font-weight="bold" text-anchor="end" fill="#000" transform="rotate(-45 146.53 516.3)">2001</text>
<text x="169.95" y="516.3" font-family='"Liberation Serif", serif' font-size="11.2" font-weight="bold" text-anchor="end" fill="#000" transform="rotate(-45 169.95 516.3)">2002</text>
<text x="193.35" y="516.3" font-family='"Liberation Serif", serif' font-size="11.2" font-weight="bold" text-anchor="end" fill="#000" transform="rotate(-45 193.35 516.3)">2003</text>
<text x="216.77" y="516.3" font-family='"Liberation Serif", serif' font-size="11.2" font-weight="bold" text-anchor="end" fill="#000" transform="rotate(-45 216.77 516.3)">2004</text>
<text x="240.17" y="516.3" font-family='"Liberation Serif", serif' font-size="11.2" font-weight="bold" text-anchor="end" fill="#000" transform="rotate(-45 240.17 516.3)">2005</text>
<text x="263.58" y="516.3" font-family='"Liberation Serif", serif' font-size="11.2" font-weight="bold" text-anchor="end" fill="#000" transform="rotate(-45 263.58 516.3)">2006</text>
<text x="287" y="516.3" font-family='"Liberation Serif", serif' font-size="11.2" font-weight="bold" text-anchor="end" fill="#000" transform="rotate(-45 287 516.3)">2007</text>
<text x="310.4" y="516.3" font-family='"Liberation Serif", serif' font-size="11.2" font-weight="bold" text-anchor="end" fill="#000" transform="rotate(-45 310.4 516.3)">2008</text>
<text x="333.81" y="516.3" font-family='"Liberation Serif", serif' font-size="11.2" font-weight="bold" text-anchor="end" fill="#000" transform="rotate(-45 333.81 516.3)">2009</text>
<text x="357.22" y="516.3" font-family='"Liberation Serif", serif' font-size="11.2" font-weight="bold" text-anchor="end" fill="#000" transform="rotate(-45 357.22 516.3)">2010</text>
<text x="380.63" y="516.3" font-family='"Liberation Serif", serif' font-size="11.2" font-weight="bold" text-anchor="end" fill="#000" transform="rotate(-45 380.63 516.3)">2011</text>
<text x="404.04" y="516.3" font-family='"Liberation Serif", serif' font-size="11.2" font-weight="bold" text-anchor="end" fill="#000" transform="rotate(-45 404.04 516.3)">2012</text>
<text x="427.45" y="516.3" font-family='"Liberation Serif", serif' font-size="11.2" font-weight="bold" text-anchor="end" fill="#000" transform="rotate(-45 427.45 516.3)">2013</text>
</svg>
</body></html>
